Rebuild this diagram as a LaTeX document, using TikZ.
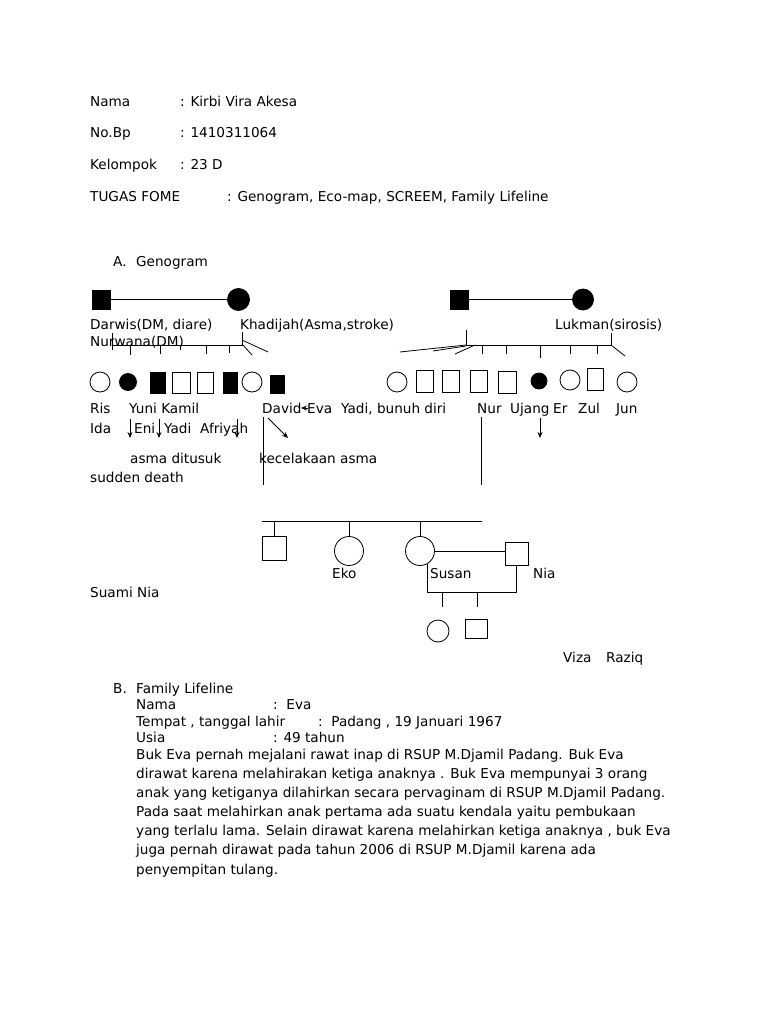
\documentclass[tikz,border=0pt]{standalone}
\usepackage{fontspec}
\setmainfont{DejaVu Sans}
\usetikzlibrary{arrows.meta}
\begin{document}
\begin{tikzpicture}[x=1pt,y=-1pt,
  lbl/.style={anchor=base west, inner sep=0pt, font=\fontsize{13.6}{16}\selectfont},
  ln/.style={line width=0.8pt},
  box/.style={draw, rectangle, inner sep=0pt, line width=0.8pt},
  fbox/.style={box, fill=black},
  ring/.style={draw, circle, inner sep=0pt, line width=0.8pt},
  dot/.style={ring, fill=black},
  arr/.style={ln, -{Stealth[length=6pt,width=5pt]}}
]
\fill[white] (0,0) rectangle (768,1024);
\useasboundingbox (0,0) rectangle (768,1024);

% header
\node[lbl] (nama) at (90,106.5) {Nama};
\node[lbl] (namav) at (180,106.5) {: Kirbi Vira Akesa};
\node[lbl] (nobp) at (90,138) {No.Bp};
\node[lbl] (nobpv) at (180,138) {: 1410311064};
\node[lbl] (kel) at (90,169.5) {Kelompok};
\node[lbl] (kelv) at (180,169.5) {: 23 D};
\node[lbl] (tugas) at (90,201.5) {TUGAS FOME};
\node[lbl] (tugasv) at (227,201.5) {: Genogram, Eco-map, SCREEM, Family Lifeline};
\node[lbl] (secA) at (113,266) {A.};
\node[lbl] (secAt) at (136,266) {Genogram};

% grandparents
\node[fbox, minimum width=18pt, minimum height=19pt] (darwis) at (101.5,299.5) {};
\node[dot, minimum size=22pt] (khad) at (238.5,299.5) {};
\draw[ln] (darwis) -- (khad);
\node[fbox, minimum width=18pt, minimum height=19pt] (bapak) at (459.5,299.5) {};
\node[dot, minimum size=21pt] (lukman) at (583,299.5) {};
\draw[ln] (bapak) -- (lukman);

\node[lbl] (ldarwis) at (90,329) {Darwis(DM, diare)};
\node[lbl] (lkhad) at (240,329) {Khadijah(Asma,stroke)};
\node[lbl] (lluk) at (555,329) {Lukman(sirosis)};
\node[lbl] (lnur) at (90,346) {Nurwana(DM)};

% left sibship lines
\draw[ln] (242,332) -- (242,345) -- (112,345);
\draw[ln] (112,333) -- (112,350);
\foreach \x/\e in {130/355,160/354,180/350,206/354,229/353} \draw[ln] (\x,345) -- (\x,\e);
\draw[ln] (242,340) -- (268,352);
\draw[ln] (242,344) -- (252,355);

% right sibship lines
\draw[ln] (466,330) -- (466,345) -- (611,345) -- (611,333);
\draw[ln] (611,345) -- (625,356);
\foreach \x/\e in {482/354,506/354,540/358,570/354,597/354} \draw[ln] (\x,345) -- (\x,\e);
\draw[ln] (400,352) -- (466,345);
\draw[ln] (433,351) -- (466,346);
\draw[ln] (455,354) -- (475,345);

% children left
\node[ring, minimum size=20pt] (c1) at (100,382) {};
\node[dot, minimum size=17pt] (c2) at (128,382) {};
\node[fbox, minimum width=15pt, minimum height=21pt] (c3) at (157.5,382.5) {};
\node[box, minimum width=18pt, minimum height=21pt] (c4) at (181,382.5) {};
\node[box, minimum width=16pt, minimum height=21pt] (c5) at (205,382.5) {};
\node[fbox, minimum width=14pt, minimum height=21pt] (c6) at (230,382.5) {};
\node[ring, minimum size=20pt] (c7) at (252,382) {};
\node[fbox, minimum width=14pt, minimum height=18pt] (c8) at (277,384) {};

% children right
\node[ring, minimum size=20pt] (d1) at (397,382) {};
\node[box, minimum width=17pt, minimum height=22pt] (d2) at (424.5,381) {};
\node[box, minimum width=17pt, minimum height=22pt] (d3) at (450.5,381) {};
\node[box, minimum width=17pt, minimum height=22pt] (d4) at (478.5,381) {};
\node[box, minimum width=18pt, minimum height=22pt] (d5) at (507,382) {};
\node[dot, minimum size=16pt] (d6) at (539,381) {};
\node[ring, minimum size=20pt] (d7) at (570,380) {};
\node[box, minimum width=16pt, minimum height=22pt] (d8) at (595,379) {};
\node[ring, minimum size=20pt] (d9) at (627,382) {};

% labels of children
\node[lbl] (lris) at (90,413) {Ris};
\node[lbl] (lyuni) at (129,413) {Yuni Kamil};
\node[lbl] (ldavid) at (262,413) {David};
\node[lbl] (leva) at (307,413) {Eva};
\node[lbl] (lyadi) at (341,413) {Yadi, bunuh diri};
\node[lbl] (lnur2) at (477,413) {Nur};
\node[lbl] (lujang) at (510,413) {Ujang};
\node[lbl] (ler) at (553,413) {Er};
\node[lbl] (lzul) at (578,413) {Zul};
\node[lbl] (ljun) at (616,413) {Jun};
\node[lbl] (lida) at (90,433) {Ida};
\node[lbl] (leni) at (134,433) {Eni};
\node[lbl] (lyadi2) at (164,433) {Yadi};
\node[lbl] (lafr) at (200,433) {Afriyah};
\node[lbl] (lasma) at (130,463) {asma ditusuk};
\node[lbl] (lkec) at (259,463) {kecelakaan asma};
\node[lbl] (lsud) at (90,482) {sudden death};

% arrows and descent lines
\draw[arr] (308,408) -- (301,408);
\draw[arr] (130,419) -- (130,438);
\draw[arr] (159,419) -- (159,438);
\draw[arr] (237,419) -- (237,438);
\draw[arr] (268,418) -- (288,438);
\draw[arr] (540,418) -- (540,438);
\draw[ln] (263,417) -- (263,485);
\draw[ln] (481,417) -- (481,485);

% lower family
\draw[ln] (262,521) -- (482,521);
\node[box, minimum size=24pt] (s1) at (274,548) {};
\node[ring, minimum size=29pt] (eko) at (349,551) {};
\node[ring, minimum size=29pt] (susan) at (420,551) {};
\node[box, minimum size=23pt] (nia) at (516.5,553.5) {};
\draw[ln] (s1.north) -- ++(0,-15);
\draw[ln] (eko.north) -- ++(0,-15.5);
\draw[ln] (susan.north) -- ++(0,-15.5);
\draw[ln] (susan.east) -- (nia.west |- susan.east);
\coordinate (bar) at (0,592);
\draw[ln] (susan.-60) -- (susan.-60 |- bar) -- (nia.south |- bar) -- (nia.south);
\draw[ln] (442,592) -- (442,607);
\draw[ln] (477,592) -- (477,607);
\node[ring, minimum size=22pt] (viza) at (438,631) {};
\node[box, minimum width=22pt, minimum height=19pt] (raziq) at (476,628.5) {};

\node[lbl] (leko) at (332,578) {Eko};
\node[lbl] (lsusan) at (430,578) {Susan};
\node[lbl] (lnia) at (533,578) {Nia};
\node[lbl] (lsuami) at (90,597) {Suami Nia};
\node[lbl] (lviza) at (563,662) {Viza};
\node[lbl] (lraziq) at (606,662) {Raziq};

% section B
\node[lbl] (secB) at (113,693) {B.};
\node[lbl] (secBt) at (136,693) {Family Lifeline};
\node[lbl] (bnama) at (136,709) {Nama};
\node[lbl] (bnamav) at (273,709) {:\ \ Eva};
\node[lbl] (btempat) at (136,726) {Tempat , tanggal lahir};
\node[lbl] (btempatv) at (318,726) {:\ \ Padang , 19 Januari 1967};
\node[lbl] (busia) at (136,742) {Usia};
\node[lbl] (busiav) at (273,742) {: 49 tahun};
\node[lbl] (p1) at (136,759) {Buk Eva pernah mejalani rawat inap di RSUP M.Djamil Padang. Buk Eva};
\node[lbl] (p2) at (136,778) {dirawat karena melahirakan ketiga anaknya . Buk Eva mempunyai 3 orang};
\node[lbl] (p3) at (136,797) {anak yang ketiganya dilahirkan secara pervaginam di RSUP M.Djamil Padang.};
\node[lbl] (p4) at (136,816) {Pada saat melahirkan anak pertama ada suatu kendala yaitu pembukaan};
\node[lbl] (p5) at (136,835) {yang terlalu lama. Selain dirawat karena melahirkan ketiga anaknya , buk Eva};
\node[lbl] (p6) at (136,854) {juga pernah dirawat pada tahun 2006 di RSUP M.Djamil karena ada};
\node[lbl] (p7) at (136,874) {penyempitan tulang.};
\end{tikzpicture}
\end{document}
